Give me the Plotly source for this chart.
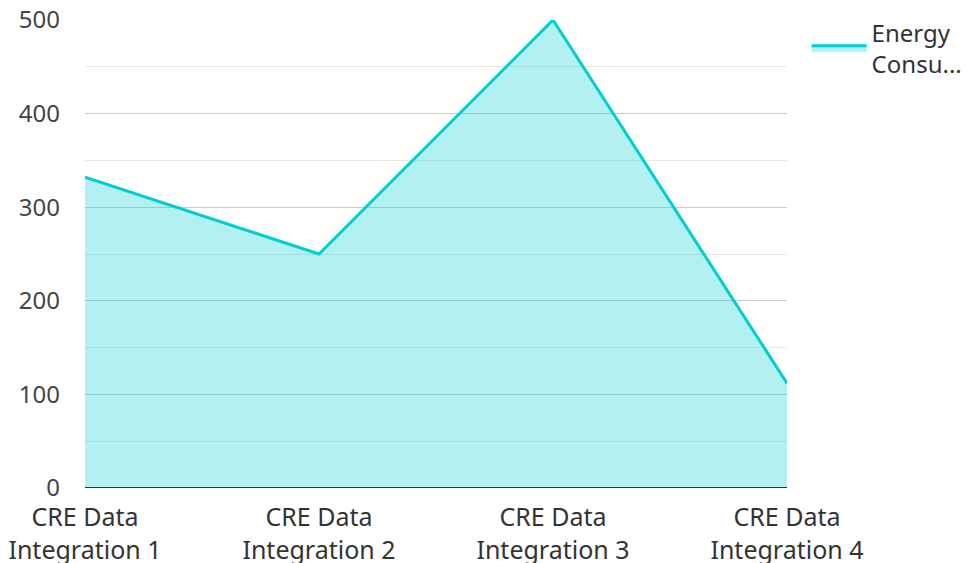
import plotly.graph_objects as go

categories = ["CRE Data<br>Integration 1", "CRE Data<br>Integration 2",
              "CRE Data<br>Integration 3", "CRE Data<br>Integration 4"]
values = [332, 250, 500, 112]
series_name = "Energy<br>Consu..."

fig = go.Figure()
fig.add_trace(go.Scatter(
    x=categories, y=values, name=series_name, mode="lines",
    line=dict(color="#00CED1", width=3),
    fill="tozeroy", fillcolor="rgba(0,206,209,0.3)",
))

fig.update_layout(
    width=966, height=563,
    margin=dict(l=85, r=179, t=20, b=75),
    plot_bgcolor="white", paper_bgcolor="white",
    font=dict(family="Noto Sans", size=24, color="#333333"),
    showlegend=True,
    legend=dict(xref="container", yref="container", x=0.835, y=0.982,
                xanchor="left", yanchor="top", itemwidth=55,
                font=dict(size=24, color="#333333"), bgcolor="rgba(0,0,0,0)"),
    xaxis=dict(type="category", range=[0, 3], showgrid=False, automargin=False,
               showline=False, zeroline=False, ticks="", ticklabelstandoff=12,
               tickfont=dict(size=25, color="#333333")),
    yaxis=dict(range=[0, 500], dtick=100, showgrid=True, gridcolor="#cccccc",
               gridwidth=1, zeroline=False, showline=False, automargin=False,
               tickfont=dict(size=24, color="#444444"), ticklabelstandoff=24,
               minor=dict(dtick=50, showgrid=True, gridcolor="#e6e6e6", gridwidth=1),
               layer="above traces"),
)
fig.add_hline(y=0, line=dict(color="#333333", width=2))

fig.write_html("out.html", config={"displayModeBar": False},
               post_script="document.body.style.margin='0';")
